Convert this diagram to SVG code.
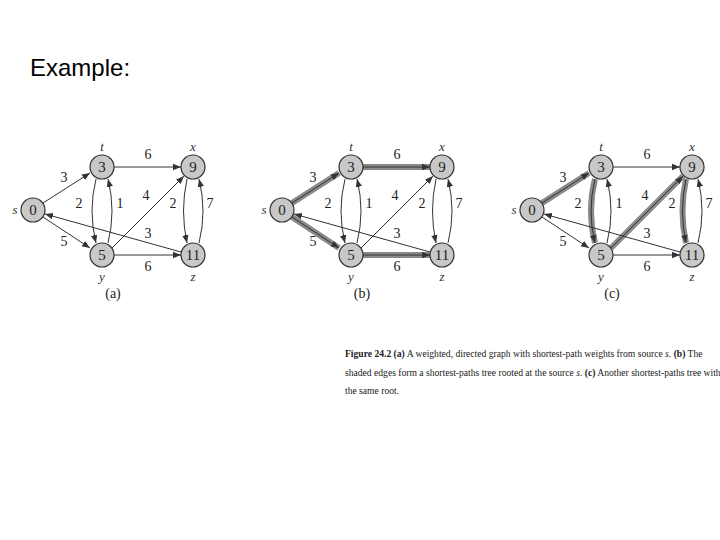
<svg xmlns="http://www.w3.org/2000/svg" width="720" height="540" viewBox="0 0 720 540">
<style>
.n{fill:#c8c8c8;stroke:#333;stroke-width:1.2}
.v{font-family:"Liberation Serif",serif;font-size:15px;text-anchor:middle;fill:#222}
.w{font-family:"Liberation Serif",serif;font-size:14px;text-anchor:middle;fill:#222}
.l{font-family:"Liberation Serif",serif;font-size:13px;font-style:italic;text-anchor:middle;fill:#333}
.e{fill:none;stroke:#333;stroke-width:1;marker-end:url(#a)}
.h{fill:none;stroke:#8a8a8a;stroke-width:6}
.c{font-family:"Liberation Serif",serif;font-size:9.6px;fill:#222}
</style>
<defs>
<marker id="a" viewBox="0 0 10 10" refX="10" refY="5" markerWidth="8" markerHeight="8" orient="auto" markerUnits="userSpaceOnUse"><path d="M0,1 L10,5 L0,9 z" fill="#333"/></marker>
<g id="g">
<g id="edges">
<path class="e" d="M43,203 L90,173"/>
<path class="e" d="M43,217 L90,248"/>
<path class="e" d="M114,167 L181,167"/>
<path class="e" d="M96,179 Q88,211 96,243"/>
<path class="e" d="M108,243 Q116,211 108,179"/>
<path class="e" d="M112,248 L184,176"/>
<path class="e" d="M181,252 L45,214"/>
<path class="e" d="M114,255 L181,255"/>
<path class="e" d="M187,179 Q180,211 187,243"/>
<path class="e" d="M199,243 Q207,211 199,179"/>
</g>
<text class="w" x="64" y="182">3</text>
<text class="w" x="64" y="246">5</text>
<text class="w" x="148" y="159">6</text>
<text class="w" x="79" y="208">2</text>
<text class="w" x="120" y="208">1</text>
<text class="w" x="146" y="200">4</text>
<text class="w" x="148" y="238">3</text>
<text class="w" x="148" y="271">6</text>
<text class="w" x="173" y="208">2</text>
<text class="w" x="210" y="208">7</text>
<g id="ns"><circle class="n" cx="33" cy="210" r="12"/><text class="v" x="33" y="215">0</text></g>
<g id="nt"><circle class="n" cx="102" cy="167" r="12"/><text class="v" x="102" y="172">3</text></g>
<g id="nx"><circle class="n" cx="193" cy="167" r="12"/><text class="v" x="193" y="172">9</text></g>
<g id="ny"><circle class="n" cx="102" cy="255" r="12"/><text class="v" x="102" y="260">5</text></g>
<g id="nz"><circle class="n" cx="193" cy="255" r="12"/><text class="v" x="193" y="260">11</text></g>
<text class="l" x="15" y="214">s</text>
<text class="l" x="102" y="151">t</text>
<text class="l" x="193" y="151">x</text>
<text class="l" x="102" y="281">y</text>
<text class="l" x="193" y="281">z</text>
</g>
</defs>
<text x="30" y="76" font-family="Liberation Sans,sans-serif" font-size="24" fill="#000">Example:</text>
<g id="A"><use href="#g"/><text class="w" x="113" y="298">(a)</text></g>
<g id="B" transform="translate(249,0)">
<path class="h" d="M43,203 L90,173 M43,217 L90,248 M114,167 L181,167 M114,255 L181,255"/>
<use href="#g"/><text class="w" x="113" y="298">(b)</text></g>
<g id="C" transform="translate(499,0)">
<path class="h" d="M43,203 L90,173 M96,179 Q88,211 96,243 M112,248 L184,176 M187,179 Q180,211 187,243"/>
<use href="#g"/><text class="w" x="113" y="298">(c)</text></g>
<g id="caption">
<text class="c" x="345" y="357"><tspan font-weight="bold">Figure 24.2</tspan> <tspan font-weight="bold">(a)</tspan> A weighted, directed graph with shortest-path weights from source <tspan font-style="italic">s</tspan>. <tspan font-weight="bold">(b)</tspan> The</text>
<text class="c" x="345" y="376">shaded edges form a shortest-paths tree rooted at the source <tspan font-style="italic">s</tspan>. <tspan font-weight="bold">(c)</tspan> Another shortest-paths tree with</text>
<text class="c" x="345" y="394">the same root.</text>
</g>
</svg>
